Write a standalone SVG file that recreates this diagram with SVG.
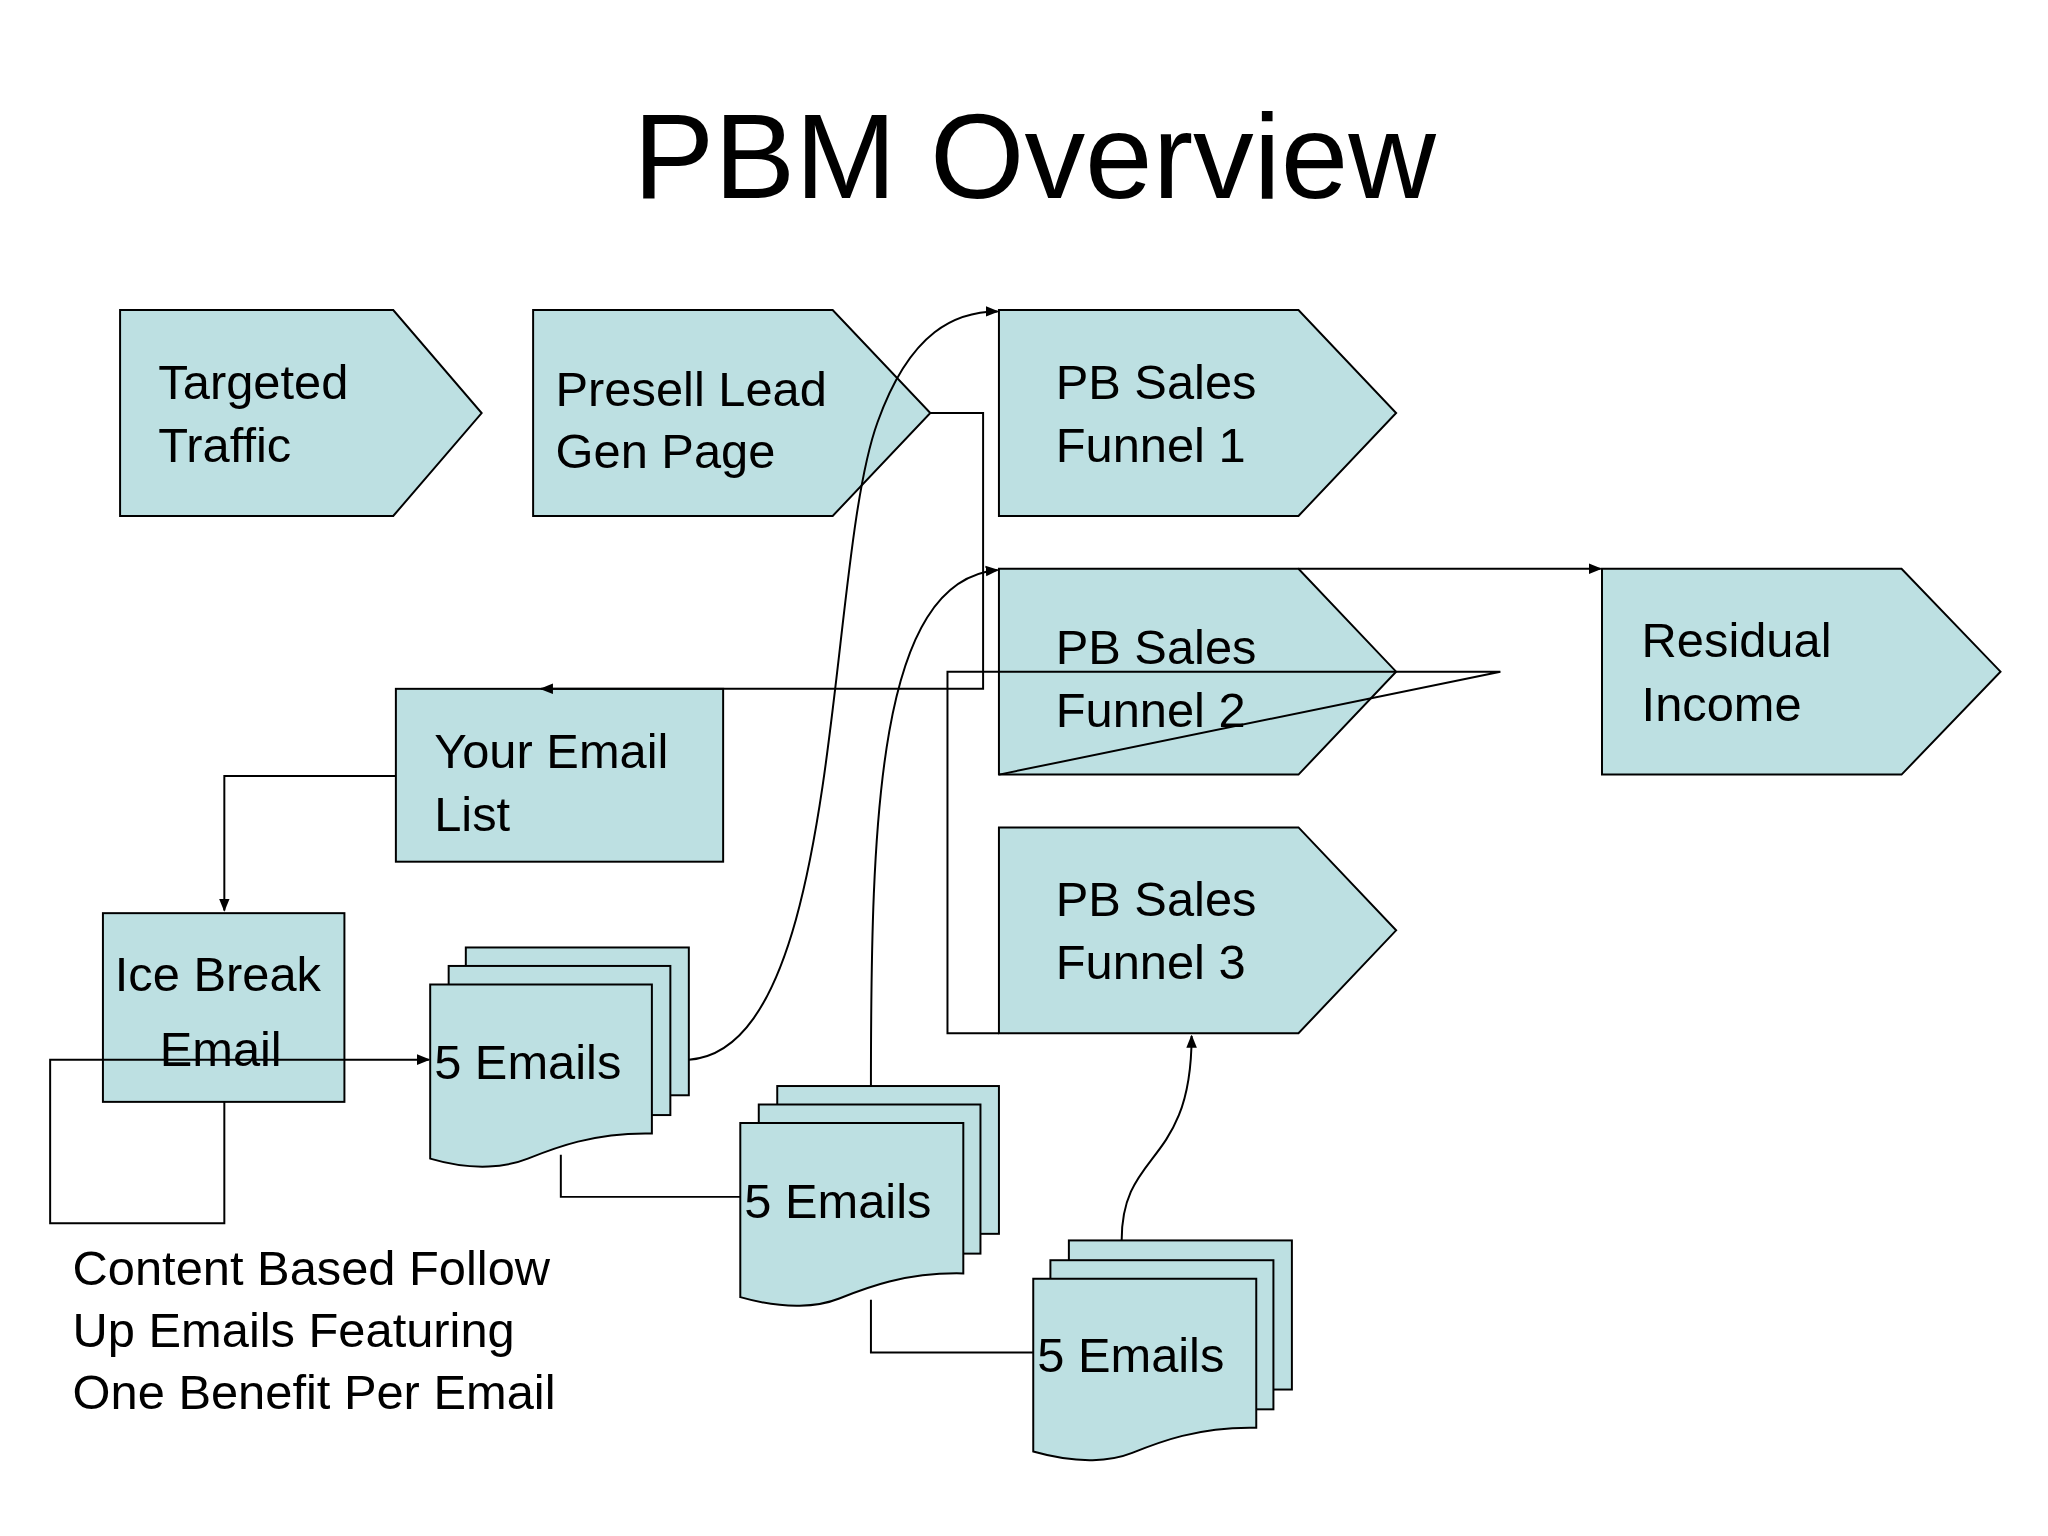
<svg xmlns="http://www.w3.org/2000/svg" width="2048" height="1536" viewBox="0 0 2048 1536">
<style>
.s{fill:#bde0e2;stroke:#000;stroke-width:1.5}
.t{font-family:"Liberation Sans",Arial,sans-serif;font-size:37px;fill:#000}
.c{fill:none;stroke:#000;stroke-width:1.5}
</style>
<defs><marker id="a" markerWidth="10" markerHeight="10" refX="9" refY="5" orient="auto" markerUnits="userSpaceOnUse"><path d="M0,1 L10,5 L0,9 Z" fill="#000"/></marker></defs>
<rect width="2048" height="1536" fill="#fff"/>
<g transform="scale(1.3196)">
<text x="784" y="150" text-anchor="middle" style="font-family:'Liberation Sans',Arial,sans-serif;font-size:92px">PBM Overview</text>
<g id="targeted"><path class="s" d="M91,235H298L365,313L298,391H91Z"/><text class="t" x="120" y="302">Targeted</text><text class="t" x="120" y="350">Traffic</text></g>
<g id="presell"><path class="s" d="M404,235H631L705,313L631,391H404Z"/><text class="t" x="421" y="308">Presell Lead</text><text class="t" x="421" y="355">Gen Page</text></g>
<g id="pb1"><path class="s" d="M757,235H984L1058,313L984,391H757Z"/><text class="t" x="800" y="302">PB Sales</text><text class="t" x="800" y="350">Funnel 1</text></g>
<g id="pb2"><path class="s" d="M757,431H984L1058,509L984,587H757Z"/><text class="t" x="800" y="503">PB Sales</text><text class="t" x="800" y="551">Funnel 2</text></g>
<g id="pb3"><path class="s" d="M757,627H984L1058,705L984,783H757Z"/><text class="t" x="800" y="694">PB Sales</text><text class="t" x="800" y="742">Funnel 3</text></g>
<g id="residual"><path class="s" d="M1214,431H1441L1516,509L1441,587H1214Z"/><text class="t" x="1244" y="498">Residual</text><text class="t" x="1244" y="546">Income</text></g>
<g id="emaillist"><rect class="s" x="300" y="522" width="248" height="131"/><text class="t" x="329" y="582">Your Email</text><text class="t" x="329" y="630">List</text></g>
<g id="icebreak"><rect class="s" x="78" y="692" width="183" height="143"/><text class="t" x="87" y="751">Ice Break</text><text class="t" x="121" y="808">Email</text></g>
<g id="stack1"><rect class="s" x="353" y="718" width="169" height="112"/><rect class="s" x="340" y="732" width="168" height="113"/><path class="s" d="M326,746H494V859C450,858 420,870 400,878C385,884 360,888 326,878Z"/><text class="t" x="329" y="818">5 Emails</text></g>
<g id="stack2"><rect class="s" x="589" y="823" width="168" height="112"/><rect class="s" x="575" y="837" width="168" height="113"/><path class="s" d="M561,851H730V965C686,964 656,976 636,984C621,990 596,993 561,983Z"/><text class="t" x="564" y="923">5 Emails</text></g>
<g id="stack3"><rect class="s" x="810" y="940" width="169" height="113"/><rect class="s" x="796" y="955" width="169" height="113"/><path class="s" d="M783,969H952V1082C908,1081 878,1093 858,1101C843,1107 818,1110 783,1100Z"/><text class="t" x="786" y="1040">5 Emails</text></g>
<g id="caption"><text class="t" x="55" y="974">Content Based Follow</text><text class="t" x="55" y="1021">Up Emails Featuring</text><text class="t" x="55" y="1068">One Benefit Per Email</text></g>
<g id="connectors">
<path class="c" d="M705,313H745V522H410" marker-end="url(#a)"/>
<path class="c" d="M300,588H170V690" marker-end="url(#a)"/>
<path class="c" d="M170,835V927H38V803H325" marker-end="url(#a)"/>
<path class="c" d="M522,803C640,795 625,430 665,320C690,250 725,236 756,236" marker-end="url(#a)"/>
<path class="c" d="M425,875V907H561"/>
<path class="c" d="M660,823C660,620 665,440 756,432" marker-end="url(#a)"/>
<path class="c" d="M660,985V1025H783"/>
<path class="c" d="M850,940C850,870 903,885 903,785" marker-end="url(#a)"/>
<path class="c" d="M984,431H1213" marker-end="url(#a)"/>
<path class="c" d="M757,783H718V509H1137L757,587"/>
</g>
</g>
</svg>
